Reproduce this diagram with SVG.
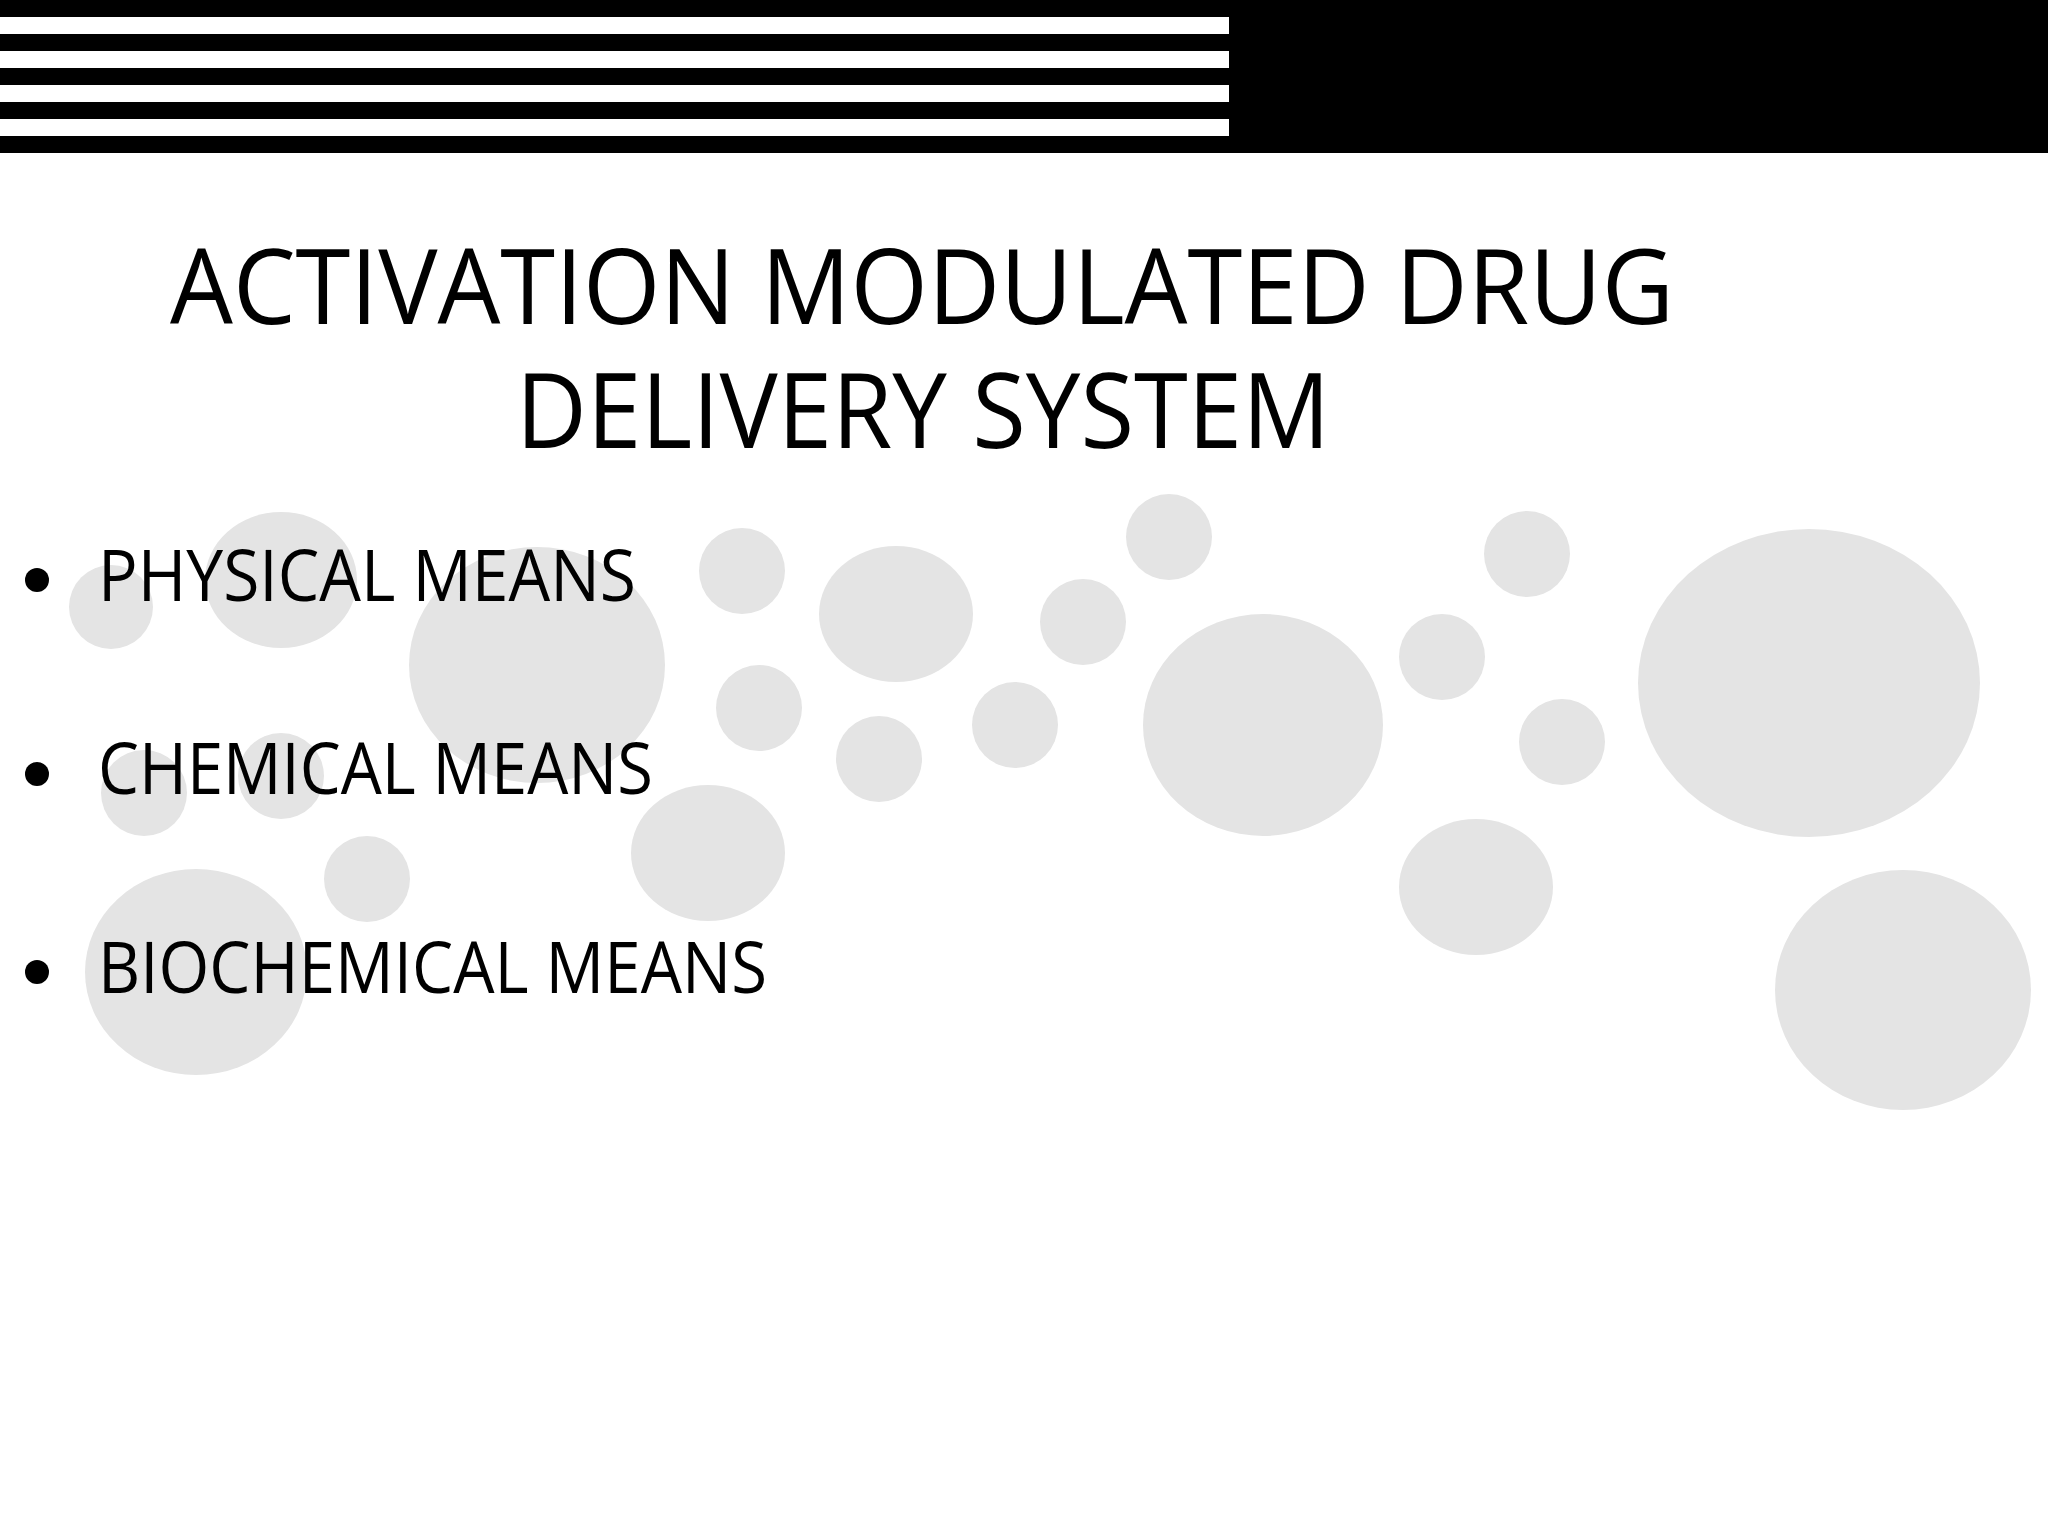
<svg xmlns="http://www.w3.org/2000/svg" width="2048" height="1536" viewBox="0 0 2048 1536">
<style>
.c{fill:#e4e4e4}
.t{font-family:"Open Sans","Noto Sans","DejaVu Sans",sans-serif;fill:#000}
</style>
<rect width="2048" height="1536" fill="#fff"/>
<g id="header">
<rect x="0" y="0" width="2048" height="153" fill="#000"/>
<rect x="0" y="17" width="1229" height="17" fill="#fff"/>
<rect x="0" y="51" width="1229" height="17" fill="#fff"/>
<rect x="0" y="85" width="1229" height="17" fill="#fff"/>
<rect x="0" y="119" width="1229" height="17" fill="#fff"/>
</g>
<g id="circles">
<ellipse class="c" cx="111" cy="607" rx="42" ry="42"/>
<ellipse class="c" cx="281" cy="580" rx="76" ry="68"/>
<ellipse class="c" cx="537" cy="665" rx="128" ry="118"/>
<ellipse class="c" cx="742" cy="571" rx="43" ry="43"/>
<ellipse class="c" cx="896" cy="614" rx="77" ry="68"/>
<ellipse class="c" cx="759" cy="708" rx="43" ry="43"/>
<ellipse class="c" cx="879" cy="759" rx="43" ry="43"/>
<ellipse class="c" cx="1015" cy="725" rx="43" ry="43"/>
<ellipse class="c" cx="1083" cy="622" rx="43" ry="43"/>
<ellipse class="c" cx="1169" cy="537" rx="43" ry="43"/>
<ellipse class="c" cx="1263" cy="725" rx="120" ry="111"/>
<ellipse class="c" cx="1442" cy="657" rx="43" ry="43"/>
<ellipse class="c" cx="1527" cy="554" rx="43" ry="43"/>
<ellipse class="c" cx="1562" cy="742" rx="43" ry="43"/>
<ellipse class="c" cx="1476" cy="887" rx="77" ry="68"/>
<ellipse class="c" cx="1809" cy="683" rx="171" ry="154"/>
<ellipse class="c" cx="1903" cy="990" rx="128" ry="120"/>
<ellipse class="c" cx="708" cy="853" rx="77" ry="68"/>
<ellipse class="c" cx="144" cy="793" rx="43" ry="43"/>
<ellipse class="c" cx="281" cy="776" rx="43" ry="43"/>
<ellipse class="c" cx="367" cy="879" rx="43" ry="43"/>
<ellipse class="c" cx="196" cy="972" rx="111" ry="103"/>
</g>
<g id="title">
<text class="t" x="170" y="324" font-size="104" textLength="1504" lengthAdjust="spacingAndGlyphs">ACTIVATION MODULATED DRUG</text>
<text class="t" x="516" y="448" font-size="104" textLength="814" lengthAdjust="spacingAndGlyphs">DELIVERY SYSTEM</text>
</g>
<g id="bullets">
<circle cx="37" cy="580" r="12"/>
<circle cx="37" cy="774" r="12"/>
<circle cx="37" cy="972" r="12"/>
<text class="t" x="98" y="601" font-size="72" textLength="538" lengthAdjust="spacingAndGlyphs">PHYSICAL MEANS</text>
<text class="t" x="98" y="794" font-size="72" textLength="555" lengthAdjust="spacingAndGlyphs">CHEMICAL MEANS</text>
<text class="t" x="98" y="993" font-size="72" textLength="669" lengthAdjust="spacingAndGlyphs">BIOCHEMICAL MEANS</text>
</g>
</svg>
